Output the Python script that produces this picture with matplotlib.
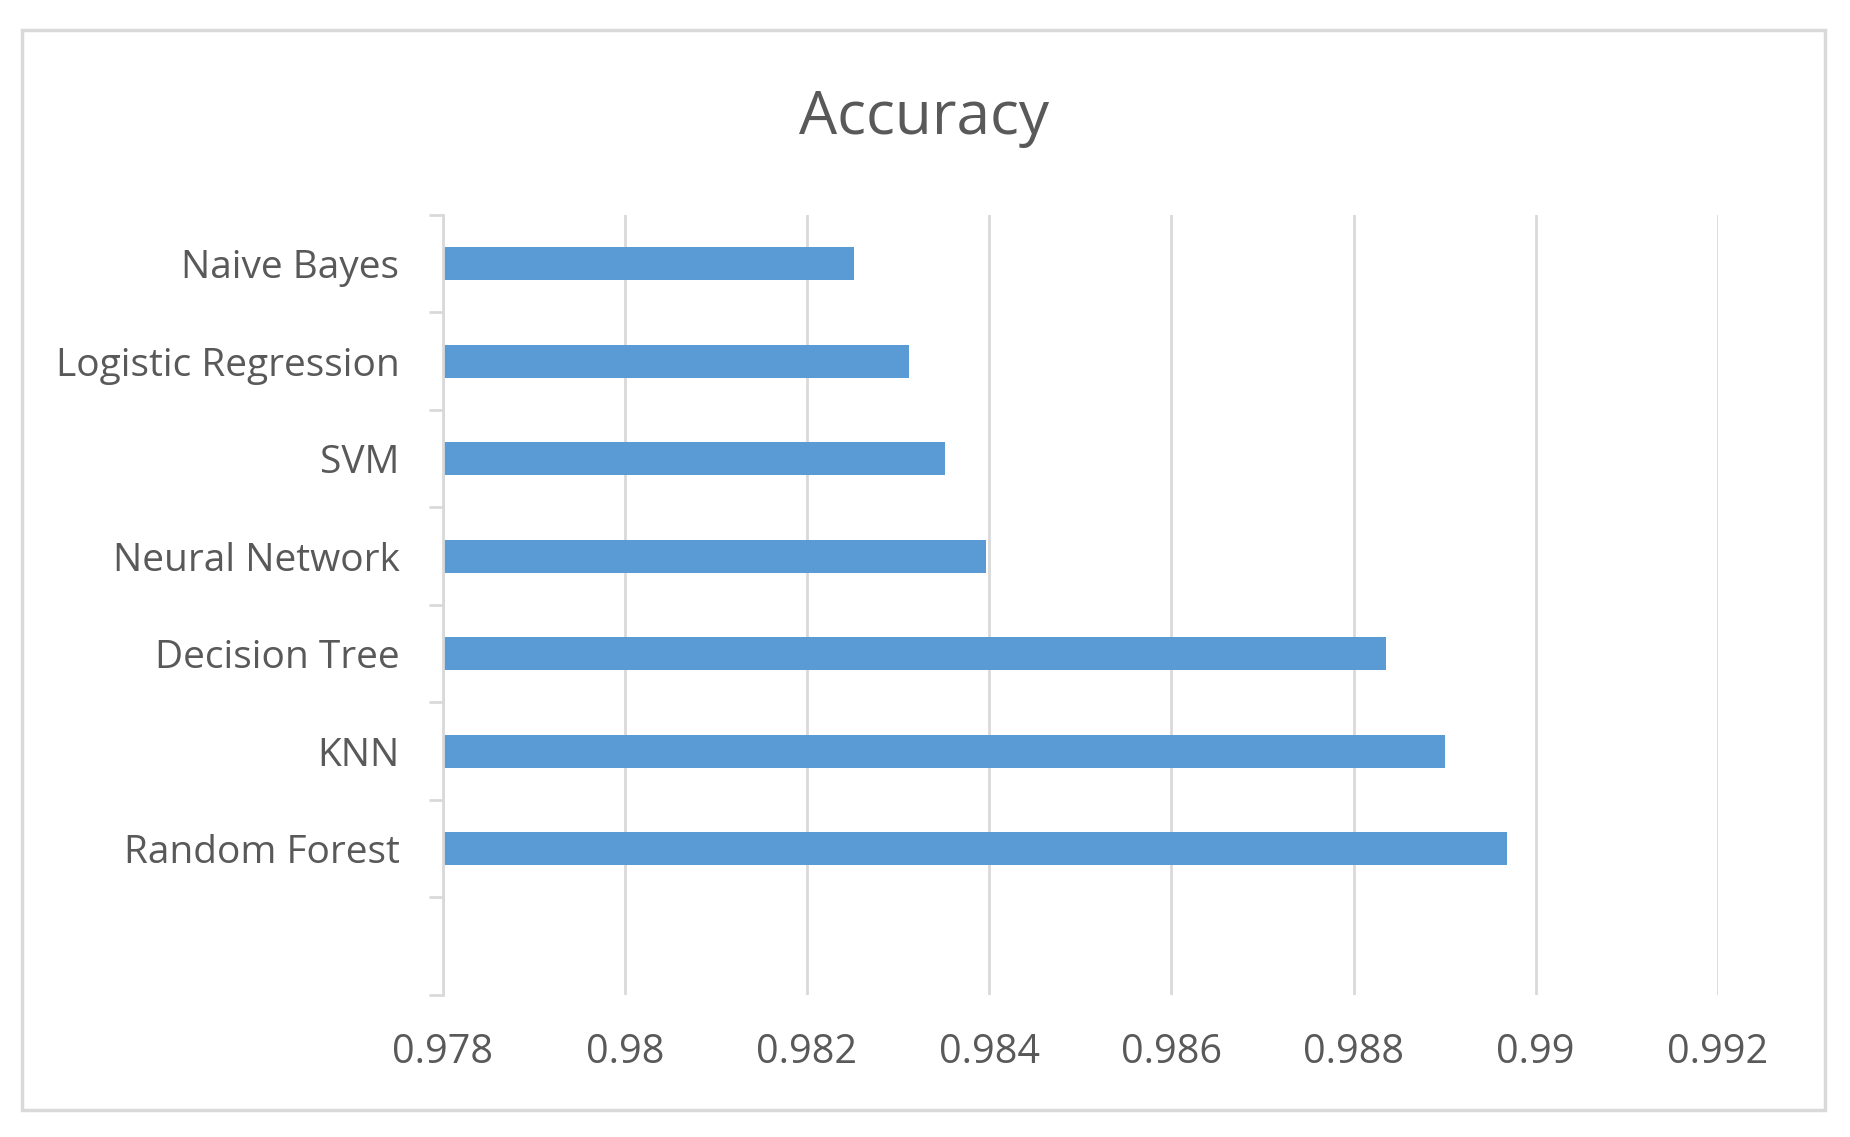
import numpy as np
import matplotlib.pyplot as plt
from matplotlib.patches import Rectangle

# Data
models = ['Random Forest', 'KNN', 'Decision Tree', 'Neural Network',
          'SVM', 'Logistic Regression', 'Naive Bayes']
accuracy = [0.98968, 0.98900, 0.98836, 0.98397, 0.98352, 0.98312, 0.98252]
x_ticks = [0.978, 0.98, 0.982, 0.984, 0.986, 0.988, 0.99, 0.992]
x_labels = ['0.978', '0.98', '0.982', '0.984', '0.986', '0.988', '0.99', '0.992']

plt.rcParams['font.family'] = ['Open Sans', 'DejaVu Sans']
text_col = '#595959'
grid_col = '#d9d9d9'
bar_col = '#5b9bd5'

fig = plt.figure(figsize=(18.5, 11.37), dpi=100)

# outer chart border
fig.patches.append(Rectangle((0.012, 0.0235), 0.9746, 0.9505, transform=fig.transFigure,
                             fill=False, edgecolor=grid_col, linewidth=2.5))

ax = fig.add_axes([0.2392, 0.125, 0.6894, 0.686])

# an empty slot at the bottom, as in the original
pos = np.arange(1, len(models) + 1)
ax.barh(pos, [a - x_ticks[0] for a in accuracy], left=x_ticks[0], height=0.34,
        color=bar_col, zorder=3)

ax.set_xlim(x_ticks[0], x_ticks[-1])
ax.set_ylim(-0.5, len(models) + 0.5)

ax.set_xticks(x_ticks)
ax.set_xticklabels(x_labels, fontsize=28.5, color=text_col)
ax.tick_params(axis='x', length=0, pad=27)

ax.set_yticks(pos)
ax.set_yticklabels(models, fontsize=28, color=text_col)
ax.tick_params(axis='y', which='major', length=0, pad=31)
ax.set_yticks(np.arange(-0.5, len(models) + 1), minor=True)
ax.tick_params(axis='y', which='minor', length=10, width=2, color=grid_col)

ax.grid(axis='x', color=grid_col, linewidth=2, zorder=0)
for s in ['top', 'right', 'bottom']:
    ax.spines[s].set_visible(False)
ax.spines['left'].set_color(grid_col)
ax.spines['left'].set_linewidth(2)
ax.spines['left'].set_zorder(4)

fig.text(0.4995, 0.896, 'Accuracy', ha='center', va='center', fontsize=43.5, color=text_col)

fig.savefig('out.png', dpi=100, facecolor='white')
